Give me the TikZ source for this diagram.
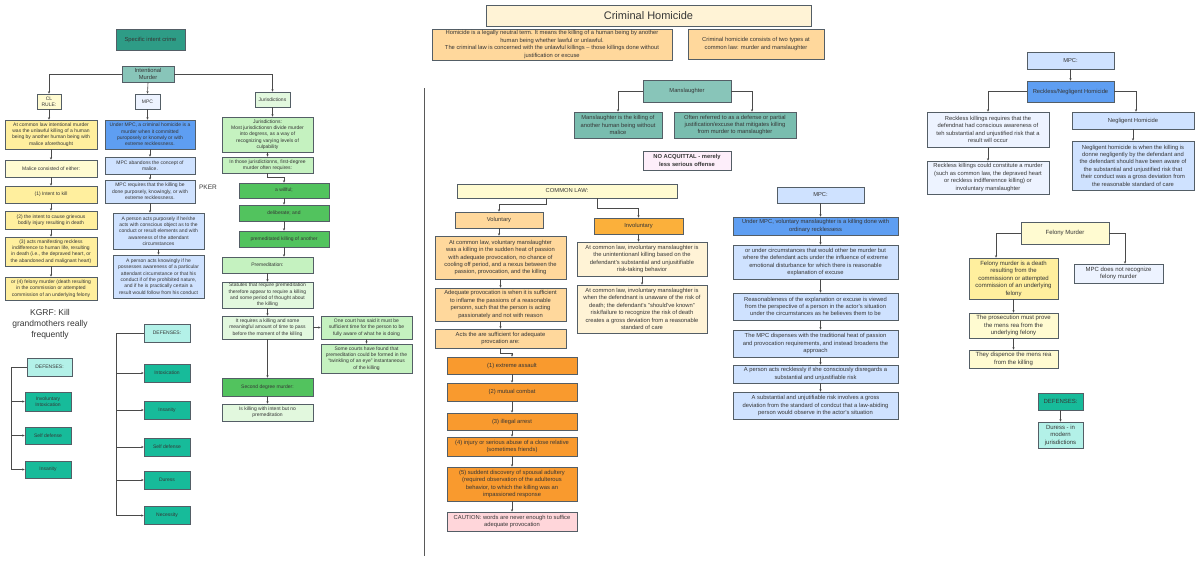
\documentclass[tikz,border=0pt]{standalone}
\usepackage{fontspec}
\setmainfont{Liberation Sans}
\usetikzlibrary{arrows.meta}
\definecolor{bordc}{HTML}{545E66}
\definecolor{linec}{HTML}{4A4A4A}
\definecolor{txt}{HTML}{363636}
\definecolor{darkteal}{HTML}{2E9C86}
\definecolor{midteal}{HTML}{88C5B9}
\definecolor{manteal}{HTML}{79BDAF}
\definecolor{defteal}{HTML}{17BB9A}
\definecolor{lcyan}{HTML}{B3F1E8}
\definecolor{clyel}{HTML}{FFEF9E}
\definecolor{lyel}{HTML}{FFFBD1}
\definecolor{blue1}{HTML}{5E9EF2}
\definecolor{lblue}{HTML}{CFE2FF}
\definecolor{vlblue}{HTML}{EDF3FF}
\definecolor{green1}{HTML}{52C35E}
\definecolor{lgreen}{HTML}{C5F2C0}
\definecolor{pgreen}{HTML}{E2F8DE}
\definecolor{cream}{HTML}{FFF3D6}
\definecolor{peach}{HTML}{FFD89C}
\definecolor{orange1}{HTML}{F99A2E}
\definecolor{orange2}{HTML}{FBB03B}
\definecolor{pinkc}{HTML}{FFD6DA}
\definecolor{lpink}{HTML}{FDEEFA}
\begin{document}
\begin{tikzpicture}[x=1pt,y=-1pt,
  bx/.style={draw=bordc, line width=0.75pt, align=center, inner sep=1pt, text=txt},
  fs/.style={font=\fontsize{5}{6.3}\selectfont},
  fm/.style={font=\fontsize{5.8}{7.4}\selectfont},
  fl/.style={font=\fontsize{6}{7.5}\selectfont},
  ln/.style={draw=linec, line width=0.6pt},
  arr/.style={ln, -{Stealth[length=2.4pt,width=2.2pt]}}]
\fill[white] (0,0) rectangle (1200,562);
\useasboundingbox (0,0) rectangle (1200,562);

% ---------------- left: intentional murder ----------------
\node[bx, fm, fill=darkteal, minimum width=69pt, minimum height=21pt] (spec) at (150.5,39.5) {Specific intent crime};
\node[bx, fm, fill=midteal, minimum width=52pt, minimum height=16pt] (im) at (148,74) {Intentional\\Murder};
\node[bx, fs, fill=lyel, minimum width=24pt, minimum height=15pt] (clr) at (49,101.5) {CL\\RULE:};
\node[bx, fs, fill=vlblue, minimum width=25pt, minimum height=15pt] (mpc1) at (147.5,101.5) {MPC};
\node[bx, fs, fill=pgreen, minimum width=35pt, minimum height=15pt] (jur) at (272.5,99.5) {Jurisdictions};
\draw[arr] (im.west) -| (clr.north);
\draw[arr] (im.east) -| (jur.north);
\draw[arr] (im.south) -- (mpc1.north);

% CL column
\node[bx, fs, fill=clyel, minimum width=92pt, minimum height=29pt] (cl1) at (51,134.5) {At common law intentional murder\\was the unlawful killing of a human\\being by another human being with\\malice aforethought};
\node[bx, fs, fill=lyel, minimum width=92pt, minimum height=17pt] (cl2) at (51,168.5) {Malice consisted of either:};
\node[bx, fs, fill=clyel, minimum width=92pt, minimum height=17pt] (cl3) at (51,194.5) {(1) Intent to kill};
\node[bx, fs, fill=clyel, minimum width=92pt, minimum height=18pt] (cl4) at (51,220) {(2) the intent to cause grievous\\bodily injury resulting in death};
\node[bx, fs, fill=clyel, minimum width=92pt, minimum height=29pt] (cl5) at (51,251.5) {(3) acts manifesting reckless\\indifference to human life, resulting\\in death (i.e., the depraved heart, or\\the abandoned and malignant heart)};
\node[bx, fs, fill=clyel, minimum width=92pt, minimum height=23pt] (cl6) at (51,288.5) {or (4) felony murder (death resulting\\in the commission or attempted\\commission of an underlying felony};
\draw[arr] (clr.south) -- (clr.south |- cl1.north);
\draw[arr] (cl1.south) -- (cl2.north);
\draw[arr] (cl2.south) -- (cl3.north);
\draw[arr] (cl3.south) -- (cl4.north);
\draw[arr] (cl4.south) -- (cl5.north);
\draw[arr] (cl5.south) -- (cl6.north);

\node[text=txt, font=\fontsize{8.5}{11}\selectfont, align=center] (kgrf) at (50,324) {KGRF: Kill\\grandmothers really\\frequently};

% left defenses
\node[bx, fs, fill=lcyan, minimum width=45pt, minimum height=18pt] (ld0) at (49.5,367) {DEFENSES:};
\node[bx, fs, fill=defteal, minimum width=46pt, minimum height=19pt] (ld1) at (48,401.5) {Involuntary\\Intoxication};
\node[bx, fs, fill=defteal, minimum width=46pt, minimum height=17pt] (ld2) at (48,435.5) {Self defense};
\node[bx, fs, fill=defteal, minimum width=46pt, minimum height=17pt] (ld3) at (48,469.5) {Insanity};
\coordinate (lb) at (11,367);
\draw[ln] (ld0.west) -- (lb) -- (lb |- ld3.west);
\draw[arr] (lb |- ld1.west) -- (ld1.west);
\draw[arr] (lb |- ld2.west) -- (ld2.west);
\draw[arr] (lb |- ld3.west) -- (ld3.west);

% MPC column
\node[bx, fs, fill=blue1, minimum width=90pt, minimum height=29pt] (m1) at (150,134.5) {Under MPC, a criminal homicide is a\\murder when it committed\\puroposely or knonwly or with\\extreme recklessness.};
\node[bx, fs, fill=lblue, minimum width=90pt, minimum height=17pt] (m2) at (150,165.5) {MPC abandons the concept of\\malice.};
\node[bx, fs, fill=lblue, minimum width=90pt, minimum height=23pt] (m3) at (150,191.5) {MPC requires that the killing be\\done purposely, knowingly, or with\\extreme recklessness.};
\node[bx, fs, fill=lblue, minimum width=91pt, minimum height=36pt] (m4) at (158.5,231) {A person acts purposely if he/she\\acts with conscious object as to the\\conduct or result elements and with\\awareness of the attendant\\circumstances};
\node[bx, fs, fill=lblue, minimum width=91pt, minimum height=43pt] (m5) at (158.5,276.5) {A person acts knowingly if he\\possesses awareness of a particular\\attendant circumstance or that his\\conduct if of the prohibited nature,\\and if he is practically certain a\\result would follow from his conduct};
\node[text=txt, font=\fontsize{6.5}{8}\selectfont, inner sep=0pt] (pker) at (208,187) {PKER};
\draw[arr] (mpc1.south) -- (mpc1.south |- m1.north);
\draw[arr] (m1.south) -- (m2.north);
\draw[arr] (m2.south) -- (m3.north);
\draw[arr] (m3.south) -- (m3.south |- m4.north);
\draw[arr] (m4.south) -- (m5.north);

% middle defenses
\node[bx, fs, fill=lcyan, minimum width=46pt, minimum height=18pt] (md0) at (167,333) {DEFENSES:};
\node[bx, fs, fill=defteal, minimum width=46pt, minimum height=18pt] (md1) at (167,373) {Intoxication};
\node[bx, fs, fill=defteal, minimum width=46pt, minimum height=18pt] (md2) at (167,410) {Insanity};
\node[bx, fs, fill=defteal, minimum width=46pt, minimum height=18pt] (md3) at (167,447) {Self defense};
\node[bx, fs, fill=defteal, minimum width=46pt, minimum height=18pt] (md4) at (167,480) {Duress};
\node[bx, fs, fill=defteal, minimum width=46pt, minimum height=18pt] (md5) at (167,515.5) {Necessity};
\coordinate (mb) at (116,333);
\draw[ln] (md0.west) -- (mb) -- (mb |- md5.west);
\draw[arr] (mb |- md1.west) -- (md1.west);
\draw[arr] (mb |- md2.west) -- (md2.west);
\draw[arr] (mb |- md3.west) -- (md3.west);
\draw[arr] (mb |- md4.west) -- (md4.west);
\draw[arr] (mb |- md5.west) -- (md5.west);

% Jurisdictions column
\node[bx, fs, fill=lgreen, minimum width=91pt, minimum height=35pt] (j1) at (267.5,134.5) {Jurisdictions:\\Most jurisdictionsn divide murder\\into degress, as a way of\\recognizing varying levels of\\culpability};
\node[bx, fs, fill=lgreen, minimum width=91pt, minimum height=16pt] (j2) at (267.5,165) {In those jurisdictionns, first-degree\\murder often requires:};
\node[bx, fs, fill=green1, minimum width=90pt, minimum height=15pt] (j3) at (284,190.5) {a willful;};
\node[bx, fs, fill=green1, minimum width=90pt, minimum height=16pt] (j4) at (284,213) {deliberate; and};
\node[bx, fs, fill=green1, minimum width=90pt, minimum height=16pt] (j5) at (284,239) {premeditated killing of another};
\node[bx, fs, fill=lgreen, minimum width=91pt, minimum height=16pt] (j6) at (267.5,265) {Premeditation:};
\node[bx, fs, fill=pgreen, minimum width=91pt, minimum height=26pt] (j7) at (267.5,295) {Statutes that require premeditation\\therefore appear to require a killing\\and some period of thought about\\the killing};
\node[bx, fs, fill=pgreen, minimum width=91pt, minimum height=23pt] (j8) at (267.5,327.5) {It requires a killing and some\\meaningful amount of time to pass\\before the moment of the killing};
\node[bx, fs, fill=lgreen, minimum width=91pt, minimum height=23pt] (j9) at (366.5,327.5) {One court has said it must be\\sufficient time for the person to be\\fully aware of what he is doing};
\node[bx, fs, fill=lgreen, minimum width=91pt, minimum height=29pt] (j10) at (366.5,358.5) {Some courts have found that\\premeditation could be formed in the\\“twinkling of an eye” instantaneous\\of the killing};
\node[bx, fs, fill=green1, minimum width=91pt, minimum height=18pt] (j11) at (267.5,387) {Second degree murder:};
\node[bx, fs, fill=pgreen, minimum width=91pt, minimum height=17pt] (j12) at (267.5,412.5) {Is killing with intent but no\\premeditation};
\coordinate (j23) at (284,177);
\draw[arr] (jur.south) -- (jur.south |- j1.north);
\draw[arr] (j1.south) -- (j2.north);
\draw[arr] (j2.south) |- (j23) -- (j3.north);
\draw[arr] (j3.south) -- (j4.north);
\draw[arr] (j4.south) -- (j5.north);
\draw[arr] (j5.south) -- (j5.south |- j6.north);
\draw[arr] (j6.south) -- (j7.north);
\draw[arr] (j7.south) -- (j8.north);
\draw[arr] (j8.east) -- (j9.west);
\draw[arr] (j9.south) -- (j10.north);
\draw[arr] (j8.south) -- (j11.north);
\draw[arr] (j11.south) -- (j12.north);

% divider
\draw[draw=gray!70!black, line width=0.8pt] (424,88) -- (424,556);

% ---------------- top ----------------
\node[bx, font=\fontsize{11}{13}\selectfont, fill=cream, minimum width=325pt, minimum height=21pt] (title) at (648.5,15.5) {Criminal Homicide};
\node[bx, fm, fill=peach, minimum width=240pt, minimum height=31pt] (h1) at (552,44.5) {Homicide is a legally neutral term. It means the killing of a human being by another\\human being whether lawful or unlawful.\\The criminal law is concerned with the unlawful killings -- those killings done without\\justification or excuse};
\node[bx, fm, fill=peach, minimum width=136pt, minimum height=30pt] (h2) at (756,44) {Criminal homicide consists of two types at\\common law: murder and manslaughter};

\node[bx, fm, fill=midteal, minimum width=88pt, minimum height=22pt] (man) at (687,91) {Manslaughter};
\node[bx, fm, fill=manteal, minimum width=88pt, minimum height=26pt] (man1) at (618,125) {Manslaughter is the killing of\\another human being without\\malice};
\node[bx, fm, fill=manteal, minimum width=122pt, minimum height=26pt] (man2) at (735,125) {Often referred to as a defense or partial\\justification/excuse that mitigates killing\\from murder to manslaughter};
\node[bx, fm, fill=lpink, minimum width=88pt, minimum height=19pt, font=\fontsize{5.8}{7.4}\selectfont\bfseries] (noacq) at (687,160.5) {NO ACQUITTAL - merely\\less serious offense};
\draw[arr] (man.west) -| (man1.north);
\draw[arr] (man.east) -| ([xshift=17pt]man2.north);

% common law
\node[bx, fm, fill=lyel, minimum width=220pt, minimum height=14pt] (cl) at (567,191) {COMMON LAW:};
\node[bx, fm, fill=peach, minimum width=88pt, minimum height=16pt] (vol) at (499,220) {Voluntary};
\node[bx, fm, fill=orange2, minimum width=89pt, minimum height=16pt] (inv) at (638.5,226) {Involuntary};
\coordinate (clv) at (499,204);
\coordinate (cli) at (638.5,208);
\draw[arr] ([xshift=-21pt]cl.south) |- (clv) -- (vol.north);
\draw[arr] ([xshift=30pt]cl.south) |- (cli) -- (inv.north);

\node[bx, fm, fill=peach, minimum width=131pt, minimum height=43pt] (v1) at (500.5,257.5) {At common law, voluntary manslaughter\\was a killing in the sudden heat of passion\\with adequate provocation, no chance of\\cooling off period, and a nexus between the\\passion, provocation, and the killing};
\node[bx, fm, fill=peach, minimum width=131pt, minimum height=33pt] (v2) at (500.5,304.5) {Adequate provocation is when it is sufficient\\to inflame the passions of a reasonable\\personn, such that the person is acting\\passionately and not with reason};
\node[bx, fm, fill=peach, minimum width=131pt, minimum height=19pt] (v3) at (500.5,338.5) {Acts the are sufficient for adequate\\provcation are:};
\draw[arr] (vol.south) -- (vol.south |- v1.north);
\draw[arr] (v1.south) -- (v2.north);
\draw[arr] (v2.south) -- (v3.north);

\node[bx, fm, fill=cream, minimum width=130pt, minimum height=34pt] (i1) at (642,259) {At common law, involuntary manslaughter is\\the unintentionanl killing based on the\\defendant's substantial and unjusitifiable\\risk-taking behavior};
\node[bx, fm, fill=cream, minimum width=130pt, minimum height=48pt] (i2) at (642,309) {At common law, involuntary manslaughter is\\when the defendnant is unaware of the risk of\\death; the defendant's "should've known"\\risk/failure to recognize the risk of death\\creates a gross deviation from a reasonable\\standard of care};
\draw[arr] (inv.south) -- (inv.south |- i1.north);
\draw[arr] (i1.south) -- (i2.north);

\node[bx, fm, fill=orange1, minimum width=130pt, minimum height=17pt] (o1) at (512,365.5) {(1) extreme assault};
\node[bx, fm, fill=orange1, minimum width=130pt, minimum height=18pt] (o2) at (512,392) {(2) mutual combat};
\node[bx, fm, fill=orange1, minimum width=130pt, minimum height=17pt] (o3) at (512,421.5) {(3) illegal arrest};
\node[bx, fm, fill=orange1, minimum width=130pt, minimum height=19pt] (o4) at (512,446.5) {(4) injury or serious abuse of a close relative\\(sometimes friends)};
\node[bx, fm, fill=orange1, minimum width=130pt, minimum height=34pt] (o5) at (512,484) {(5) suddent discovery of spousal adultery\\(required observation of the adulterous\\behavior, to which the killing was an\\impassioned response};
\node[bx, fm, fill=pinkc, minimum width=130pt, minimum height=19pt] (caut) at (512,521.5) {CAUTION: words are never enough to suffice\\adequate provocation};
\coordinate (v3o1) at (512,353);
\draw[arr] (v3.south) |- (v3o1) -- (o1.north);
\draw[arr] (o1.south) -- (o2.north);
\draw[arr] (o2.south) -- (o3.north);
\draw[arr] (o3.south) -- (o4.north);
\draw[arr] (o4.south) -- (o5.north);
\draw[arr] (o5.south) -- (caut.north);

% MPC middle
\node[bx, fm, fill=lblue, minimum width=87pt, minimum height=16pt] (mm0) at (820.5,195) {MPC:};
\node[bx, fm, fill=blue1, minimum width=165pt, minimum height=18pt] (mm1) at (815.5,226) {Under MPC, voluntary manslaughter is a killing done with\\ordinary recklessess};
\node[bx, fm, fill=lblue, minimum width=165pt, minimum height=34pt] (mm2) at (815.5,262) {or under circumstances that would other be murder but\\where the defendant acts under the influence of extreme\\emotional disturbance for which there is reasonable\\explanation of excuse};
\node[bx, fm, fill=lblue, minimum width=165pt, minimum height=27pt] (mm3) at (815.5,306.5) {Reasonableness of the explanation or excuse is viewed\\from the perspective of a person in the actor's situation\\under the circumstances as he believes them to be};
\node[bx, fm, fill=lblue, minimum width=165pt, minimum height=27pt] (mm4) at (815.5,343.5) {The MPC dispenses with the traditional heat of passion\\and provocation requirements, and instead broadens the\\approach};
\node[bx, fm, fill=lblue, minimum width=165pt, minimum height=18pt] (mm5) at (815.5,374) {A person acts recklessly if she consciously disregards a\\substantial and unjustifiable risk};
\node[bx, fm, fill=lblue, minimum width=165pt, minimum height=27pt] (mm6) at (815.5,405.5) {A substantial and unjutifiable risk involves a gross\\deviation from the standard of condcut that a law-abiding\\person would observe in the actor's situation};
\draw[arr] (mm0.south) -- (mm1.north -| mm0.south);
\draw[arr] (mm1.south -| mm0.south) -- (mm2.north -| mm0.south);
\draw[arr] (mm2.south -| mm0.south) -- (mm3.north -| mm0.south);
\draw[arr] (mm3.south -| mm0.south) -- (mm4.north -| mm0.south);
\draw[arr] (mm4.south -| mm0.south) -- (mm5.north -| mm0.south);
\draw[arr] (mm5.south -| mm0.south) -- (mm6.north -| mm0.south);

% ---------------- right ----------------
\node[bx, fm, fill=lblue, minimum width=87pt, minimum height=17pt] (r0) at (1070.5,60.5) {MPC:};
\node[bx, fm, fill=blue1, minimum width=87pt, minimum height=21pt] (r1) at (1070.5,91.5) {Reckless/Negligent Homicide};
\node[bx, fm, fill=vlblue, minimum width=122pt, minimum height=35pt] (r2) at (988,129.5) {Reckless killings requires that the\\defendnat had conscious awareness of\\teh substantial and unjustified risk that a\\result will occur};
\node[bx, fm, fill=vlblue, minimum width=122pt, minimum height=33pt] (r3) at (988,177.5) {Reckless killings could constitute a murder\\(such as common law, the depraved heart\\or reckless indifferennce killing) or\\involuntary manslaughter};
\node[bx, fm, fill=lblue, minimum width=122pt, minimum height=17pt] (r4) at (1133,120.5) {Negligent Homicide};
\node[bx, fm, fill=lblue, minimum width=122pt, minimum height=49pt] (r5) at (1133,165.5) {Negligent homicide is when the killing is\\donne negligently by the defendant and\\the defendant should have been aware of\\the substantial and unjustified risk that\\their conduct was a gross deviation from\\the reasonable standard of care};
\draw[arr] (r0.south) -- (r1.north);
\draw[arr] (r1.west) -| (r2.north);
\draw[arr] (r1.east) -| ([xshift=3pt]r4.north);
\draw[arr] (r2.south) -- (r3.north);
\draw[arr] (r4.south) -- (r5.north);

\node[bx, fl, fill=lyel, minimum width=88pt, minimum height=22pt] (f0) at (1065,233) {Felony Murder};
\node[bx, fl, fill=clyel, minimum width=89pt, minimum height=41pt] (f1) at (1013.5,278.5) {Felony murder is a death\\resulting from the\\commissionn or attempted\\commission of an underlying\\felony};
\node[bx, fl, fill=vlblue, minimum width=89pt, minimum height=19pt] (f2) at (1118.5,273.5) {MPC does not recognize\\felony murder};
\node[bx, fl, fill=lyel, minimum width=89pt, minimum height=25pt] (f3) at (1013.5,325.5) {The prosecution must prove\\the mens rea from the\\underlying felony};
\node[bx, fl, fill=lyel, minimum width=89pt, minimum height=18pt] (f4) at (1013.5,359) {They dispence the mens rea\\from the killing};
\draw[arr] (f0.west) -| ([xshift=-17.5pt]f1.north);
\draw[arr] (f0.east) -| ([xshift=6.5pt]f2.north);
\draw[arr] (f1.south) -- (f3.north);
\draw[arr] (f3.south) -- (f4.north);

\node[bx, fl, fill=defteal, minimum width=45pt, minimum height=17pt] (rd0) at (1060.5,401.5) {DEFENSES:};
\node[bx, fl, fill=lcyan, minimum width=45pt, minimum height=26pt] (rd1) at (1060.5,435) {Duress - in\\modern\\jurisdictions};
\draw[arr] (rd0.south) -- (rd1.north);
\end{tikzpicture}
\end{document}
